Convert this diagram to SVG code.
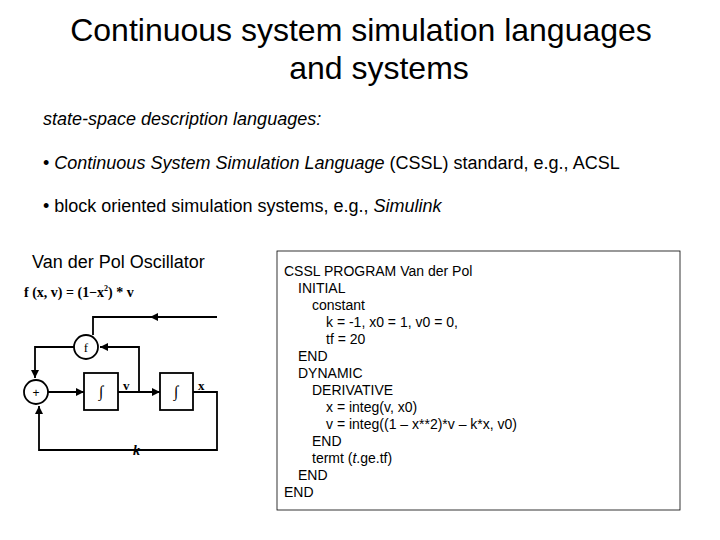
<svg xmlns="http://www.w3.org/2000/svg" width="720" height="540" viewBox="0 0 720 540">
<defs>
<marker id="ah" viewBox="0 0 10 10" refX="10" refY="5" markerWidth="4.5" markerHeight="4.5" orient="auto"><path d="M0,0L10,5L0,10z" fill="#000"/></marker>
</defs>
<style>
text{font-family:"Liberation Sans",Arial,sans-serif;fill:#000}
.b{font-size:18px}
.c{font-size:14px}
.ln{fill:none;stroke:#000;stroke-width:1.8}
.s{font-family:"Liberation Serif",serif}
</style>
<rect width="720" height="540" fill="#fff"/>
<text x="361" y="41" font-size="32" text-anchor="middle">Continuous system simulation languages</text>
<text x="379" y="79" font-size="32" text-anchor="middle">and systems</text>
<text class="b" x="43" y="125" font-style="italic">state-space description languages:</text>
<text class="b" x="43" y="169">• <tspan font-style="italic">Continuous System Simulation Language</tspan> (CSSL) standard, e.g., ACSL</text>
<text class="b" x="43" y="212">• block oriented simulation systems, e.g., <tspan font-style="italic">Simulink</tspan></text>
<text class="b" x="32" y="268">Van der Pol Oscillator</text>
<g id="formula"><text class="s" x="24" y="297" font-size="14" font-weight="bold" fill="#444">f (x, v) = (1−x<tspan font-size="8" dy="-6">2</tspan><tspan dy="6">) * v</tspan></text></g>
<g id="connectors">
<path class="ln" d="M93,335V317H217" />
<path class="ln" d="M217,317H150" marker-end="url(#ah)"/>
<path class="ln" d="M74,347H35V378" marker-end="url(#ah)"/>
<path class="ln" d="M139,392V347H100" marker-end="url(#ah)"/>
<path class="ln" d="M48,392H84" marker-end="url(#ah)"/>
<path class="ln" d="M118,392H160" marker-end="url(#ah)"/>
<path class="ln" d="M193,392H217V450H39V406" marker-end="url(#ah)"/>
</g>
<g id="f"><circle cx="86" cy="347" r="12" class="ln"/><text class="s" x="86" y="352" font-size="13" text-anchor="middle">f</text></g>
<g id="plus"><circle cx="36" cy="392" r="12" class="ln"/><text x="36" y="397" font-size="12" text-anchor="middle" fill="#a07040">+</text></g>
<g id="int1"><rect x="84" y="373" width="34" height="37" class="ln"/><text class="s" x="101" y="397" font-size="16" text-anchor="middle" fill="#904090">∫</text></g>
<g id="int2"><rect x="160" y="373" width="33" height="37" class="ln"/><text class="s" x="176" y="397" font-size="16" text-anchor="middle" fill="#904090">∫</text></g>
<text class="s" x="123" y="390" font-size="13" font-weight="bold">v</text>
<text class="s" x="198" y="390" font-size="13" font-weight="bold">x</text>
<text class="s" x="133" y="455" font-size="14" font-weight="bold" font-style="italic">k</text>
<g id="code">
<rect x="277" y="251" width="403" height="259" fill="#fff" stroke="#000" stroke-width="0.8"/>
<text class="c" x="284" y="276">CSSL PROGRAM Van der Pol</text>
<text class="c" x="298" y="293">INITIAL</text>
<text class="c" x="312" y="310">constant</text>
<text class="c" x="326" y="327">k = -1, x0 = 1, v0 = 0,</text>
<text class="c" x="326" y="344">tf = 20</text>
<text class="c" x="298" y="361">END</text>
<text class="c" x="298" y="378">DYNAMIC</text>
<text class="c" x="312" y="395">DERIVATIVE</text>
<text class="c" x="326" y="412">x = integ(v, x0)</text>
<text class="c" x="326" y="429">v = integ((1 – x**2)*v – k*x, v0)</text>
<text class="c" x="312" y="446">END</text>
<text class="c" x="312" y="463">termt (<tspan font-style="italic">t</tspan>.ge.tf)</text>
<text class="c" x="298" y="480">END</text>
<text class="c" x="284" y="497">END</text>
</g>
</svg>
